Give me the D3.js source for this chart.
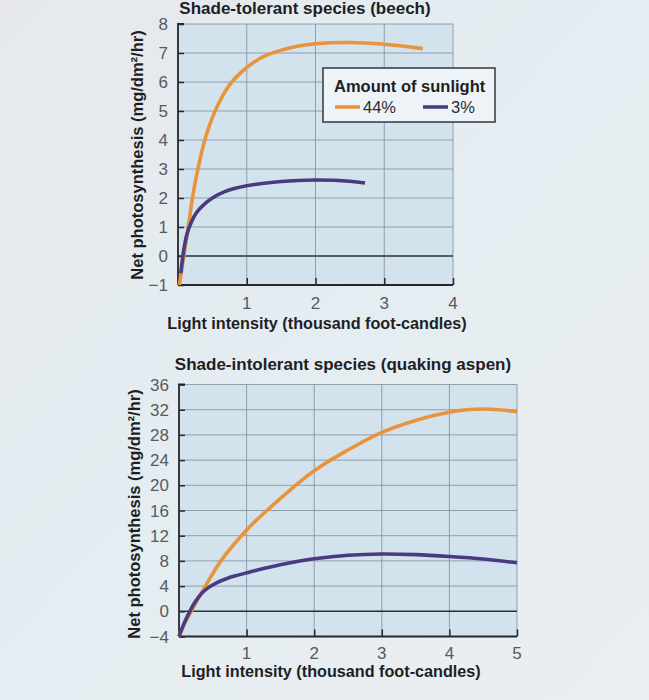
<!DOCTYPE html>
<html>
<head>
<meta charset="utf-8">
<script src="https://cdn.jsdelivr.net/npm/d3@7"></script>
<style>
	body { margin: 0; background: #e8edf1; }
	text { font-family: "Liberation Sans", Arial, sans-serif; }
</style>
</head>
<body>
<svg id="chart" width="649" height="700"></svg>
<script>
// ---- data ----
const sunlight = ["44%", "3%"];
const seriesColors = ["#e9933a", "#4a3a80"];

// beech (shade-tolerant): [light intensity, net photosynthesis]
const beech44 = [[0.02, -1], [0.085, 0], [0.15, 1], [0.21, 2], [0.29, 3], [0.39, 4], [0.54, 5], [0.75, 5.9],
	[1, 6.5], [1.25, 6.88], [1.5, 7.1], [1.75, 7.24], [2, 7.32], [2.5, 7.36], [3, 7.3], [3.56, 7.15]];
const beech3 = [[0.04, -0.6], [0.06, -0.2], [0.09, 0.3], [0.13, 0.75], [0.19, 1.15], [0.27, 1.5], [0.38, 1.78],
	[0.5, 2.0], [0.68, 2.22], [1, 2.42], [1.5, 2.57], [2, 2.62], [2.5, 2.58], [2.72, 2.52]];

// quaking aspen (shade-intolerant)
const aspen44 = [[0.0, -4], [0.08, -2], [0.18, 0], [0.39, 4], [0.62, 8], [1, 12.9], [1.3, 16], [2, 22.3],
	[2.5, 25.6], [3, 28.4], [3.5, 30.3], [4, 31.6], [4.5, 32.1], [5, 31.7]];
const aspen3 = [[0.0, -4], [0.08, -1.8], [0.16, 0], [0.24, 1.5], [0.33, 2.8], [0.44, 3.8], [0.57, 4.6],
	[0.72, 5.25], [0.86, 5.7], [1, 6.1], [1.25, 6.8], [1.5, 7.4], [1.75, 7.92], [2, 8.35], [2.5, 8.9],
	[3, 9.1], [3.5, 9.0], [4, 8.7], [4.5, 8.3], [5, 7.7]];

const beechYTicks = [-1, 0, 1, 2, 3, 4, 5, 6, 7, 8];
const beechXTicks = [1, 2, 3, 4];
const aspenYTicks = [-4, 0, 4, 8, 12, 16, 20, 24, 28, 32, 36];
const aspenXTicks = [1, 2, 3, 4, 5];

const svg = d3.select('#chart');

// light page wash like the photographed page
const defs = svg.append('defs');
const wash = defs.append('linearGradient').attr('id', 'wash')
	.attr('x1', 0).attr('y1', 0).attr('x2', 1).attr('y2', 1);
wash.append('stop').attr('offset', 0).attr('stop-color', '#e6e8ec');
wash.append('stop').attr('offset', 0.5).attr('stop-color', '#e4edf2');
wash.append('stop').attr('offset', 1).attr('stop-color', '#eceef0');
svg.append('rect').attr('width', 649).attr('height', 700).attr('fill', 'url(#wash)');

var drawPanel = function(cfg) {
	const x = d3.scaleLinear().domain(cfg.xDomain).range(cfg.xRange);
	const y = d3.scaleLinear().domain(cfg.yDomain).range(cfg.yRange);
	const g = svg.append('g');
	const x0 = x.range()[0], x1 = x.range()[1];
	const yb = y.range()[0], yt = y.range()[1];

	g.append('rect')
		.attr('x', x0).attr('y', yt)
		.attr('width', x1 - x0).attr('height', yb - yt)
		.attr('fill', '#d2e3ee');

	// grid
	g.selectAll('.hgrid').data(cfg.yTicks.filter(d => d !== 0 && d !== cfg.yDomain[0]))
		.join('line')
		.attr('x1', x0).attr('x2', x1)
		.attr('y1', d => y(d)).attr('y2', d => y(d))
		.attr('stroke', '#7f8d99').attr('stroke-width', 0.8);
	g.selectAll('.vgrid').data(cfg.xTicks)
		.join('line')
		.attr('x1', d => x(d)).attr('x2', d => x(d))
		.attr('y1', yt).attr('y2', yb)
		.attr('stroke', '#7f8d99').attr('stroke-width', 0.8);

	// zero line
	g.append('line')
		.attr('x1', x0).attr('x2', x1)
		.attr('y1', y(0)).attr('y2', y(0))
		.attr('stroke', '#2b2f36').attr('stroke-width', 1.6);

	// axes: ticks point inward, labels in grey
	const yAxis = g.append('g').attr('transform', `translate(${x0},0)`)
		.call(d3.axisRight(y).tickValues(cfg.yTicks).tickSize(6).tickFormat(''));
	yAxis.select('.domain').attr('stroke', '#25282e').attr('stroke-width', 1.8).attr('d', `M6,${yt}H0V${yb}`);
	yAxis.selectAll('.tick line').attr('stroke', '#25282e').attr('stroke-width', 1.5);

	const xAxis = g.append('g').attr('transform', `translate(0,${yb})`)
		.call(d3.axisTop(x).tickValues(cfg.xTicks).tickSize(7).tickFormat(''));
	xAxis.select('.domain').attr('stroke', '#25282e').attr('stroke-width', 1.8).attr('d', `M${x0},0H${x1}`);
	xAxis.selectAll('.tick line').attr('stroke', '#25282e').attr('stroke-width', 1.5);

	g.selectAll('.ylab').data(cfg.yTicks)
		.join('text')
		.attr('x', x0 - 10).attr('y', d => y(d) + 6)
		.attr('text-anchor', 'end')
		.attr('font-size', 17).attr('fill', '#575a60')
		.text(d => d < 0 ? '\u2212' + Math.abs(d) : d);
	g.selectAll('.xlab').data(cfg.xTicks)
		.join('text')
		.attr('x', d => x(d)).attr('y', yb + cfg.xLabDy)
		.attr('text-anchor', 'middle')
		.attr('font-size', 17).attr('fill', '#575a60')
		.text(d => d);

	// curves
	const line = d3.line().x(d => x(d[0])).y(d => y(d[1])).curve(d3.curveCatmullRom.alpha(0.5));
	cfg.series.forEach((s, i) => {
		g.append('path')
			.attr('d', line(s))
			.attr('fill', 'none')
			.attr('stroke', seriesColors[i])
			.attr('stroke-width', 3.6)
			.attr('stroke-linecap', 'butt');
	});

	// titles
	g.append('text')
		.attr('x', cfg.titleX).attr('y', cfg.titleY)
		.attr('text-anchor', 'middle')
		.attr('font-size', 17).attr('font-weight', 'bold').attr('fill', '#1d1f24')
		.text(cfg.title);
	g.append('text')
		.attr('x', cfg.xTitleX).attr('y', yb + cfg.xTitleDy)
		.attr('text-anchor', 'middle')
		.attr('font-size', 16.2).attr('font-weight', 'bold').attr('fill', '#1d1f24')
		.text('Light intensity (thousand foot-candles)');
	g.append('text')
		.attr('transform', `translate(${cfg.yTitleX},${cfg.yTitleY}) rotate(-90)`)
		.attr('text-anchor', 'middle')
		.attr('font-size', 16.5).attr('font-weight', 'bold').attr('fill', '#1d1f24')
		.text('Net photosynthesis (mg/dm\u00b2/hr)');

	return { x: x, y: y, g: g };
};

const beechPanel = drawPanel({
	xDomain: [0, 4], xRange: [178, 453],
	yDomain: [-1, 8], yRange: [285, 24],
	xTicks: beechXTicks, yTicks: beechYTicks,
	series: [beech44, beech3],
	title: 'Shade-tolerant species (beech)', titleX: 305, titleY: 14,
	xLabDy: 24, xTitleDy: 44,
	xTitleX: 317, yTitleX: 143, yTitleY: 155
});

drawPanel({
	xDomain: [0, 5], xRange: [179, 517],
	yDomain: [-4, 36], yRange: [636.5, 384.5],
	xTicks: aspenXTicks, yTicks: aspenYTicks,
	series: [aspen44, aspen3],
	title: 'Shade-intolerant species (quaking aspen)', titleX: 343, titleY: 370,
	xLabDy: 22, xTitleDy: 40,
	xTitleX: 331, yTitleX: 140, yTitleY: 514
});

// legend
const leg = beechPanel.g.append('g').attr('transform', 'translate(323,68)');
leg.append('rect')
	.attr('width', 172).attr('height', 54)
	.attr('fill', '#eef3f7').attr('stroke', '#33363c').attr('stroke-width', 1.5);
leg.append('text')
	.attr('x', 11).attr('y', 24)
	.attr('font-size', 16.5).attr('font-weight', 'bold').attr('fill', '#1d1f24')
	.text('Amount of sunlight');
const items = leg.selectAll('.item').data(sunlight).join('g')
	.attr('transform', (d, i) => `translate(${i === 0 ? 12 : 100},39)`);
items.append('line')
	.attr('x1', 0).attr('x2', 25).attr('y1', 0).attr('y2', 0)
	.attr('stroke', (d, i) => seriesColors[i]).attr('stroke-width', 3.5);
items.append('text')
	.attr('x', 28).attr('y', 6)
	.attr('font-size', 16.5).attr('fill', '#2a2d33')
	.text(d => d);
</script>
</body>
</html>
